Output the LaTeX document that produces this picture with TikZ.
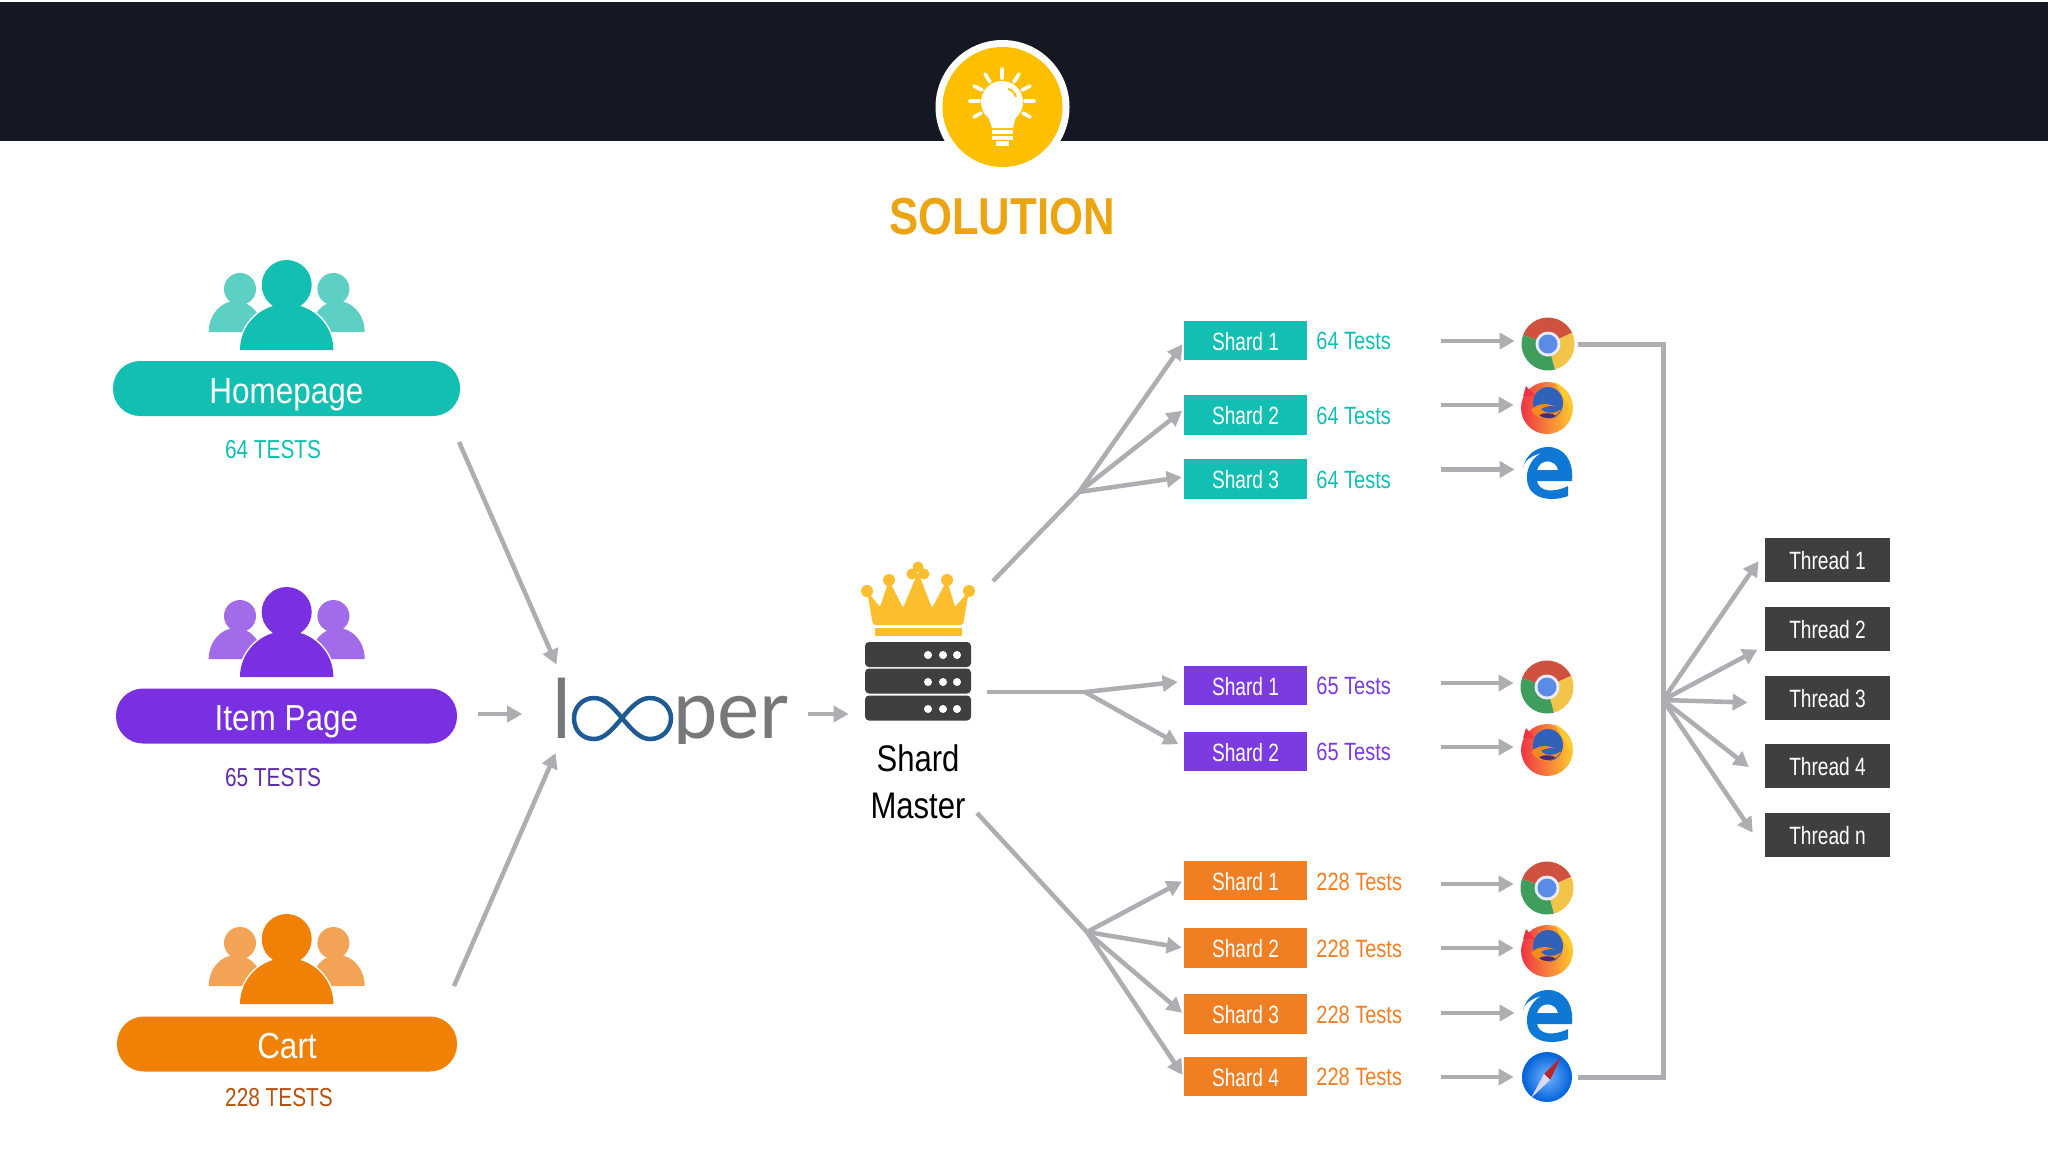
\documentclass[tikz,border=0pt]{standalone}
\usepackage{fontspec}
\usepackage{xcolor}
\usetikzlibrary{arrows.meta, calc}
\setmainfont{Liberation Sans}[FakeStretch=0.84]
\newfontfamily\pillfont{Liberation Sans}[FakeStretch=0.87]
\newfontfamily\labelfont{Liberation Sans}[FakeStretch=0.80]
\newfontfamily\boxfont{Liberation Sans}[FakeStretch=0.765]
\newfontfamily\logofont{Lato}[FakeStretch=0.97]

\definecolor{bandblack}{HTML}{151823}
\definecolor{sunyellow}{HTML}{FDBF00}
\definecolor{titlegold}{HTML}{EBA513}
\definecolor{linkgray}{HTML}{ADADB2}
\definecolor{rackgray}{HTML}{3F3F41}
\definecolor{logogray}{HTML}{77787A}
\definecolor{logoblue}{HTML}{1F5A92}
\definecolor{tealdark}{HTML}{12BFB2}
\definecolor{teallight}{HTML}{5DCFC3}
\definecolor{purpledark}{HTML}{7A2FE0}
\definecolor{purplelight}{HTML}{A26BEA}
\definecolor{purpletext}{HTML}{5E2DA5}
\definecolor{purpleshard}{HTML}{7B3BE0}
\definecolor{orangedark}{HTML}{F08006}
\definecolor{orangelight}{HTML}{F2A355}
\definecolor{orangetext}{HTML}{B5520F}
\definecolor{orangeshard}{HTML}{EF7F22}
\definecolor{crowngold}{HTML}{FCBE2C}
\definecolor{edgeblue}{HTML}{0F78D4}
\definecolor{chromered}{HTML}{CF5240}
\definecolor{chromeyellow}{HTML}{F2C448}
\definecolor{chromegreen}{HTML}{3F9E5C}
\definecolor{chromeblue}{HTML}{5A8CE6}
\definecolor{foxred}{HTML}{EE3345}
\definecolor{foxyellow}{HTML}{FFCB2E}
\definecolor{foxorange}{HTML}{F78B1F}
\definecolor{foxblue}{HTML}{2F62B8}
\definecolor{foxpurple}{HTML}{4A2A78}

\tikzset{
    pics/people/.style 2 args={code={
        \fill[#2] (-46.7,4) circle[radius=16];
        \fill[#2] (46.7,4) circle[radius=16];
        \fill[#2] (-78,47) arc[start angle=180, end angle=360, x radius=27, y radius=31] -- cycle;
        \fill[#2] (24,47) arc[start angle=180, end angle=360, x radius=27, y radius=31] -- cycle;
        \draw[white, line width=1.5pt] (0,0) circle[radius=25];
        \draw[white, line width=1.5pt] (-46.7,65) arc[start angle=180, end angle=360, x radius=46.7, y radius=46];
        \fill[#1] (0,0) circle[radius=25];
        \fill[#1] (-46.7,65) arc[start angle=180, end angle=360, x radius=46.7, y radius=46] -- cycle;
    }},
    pics/chrome/.style={code={
        \begin{scope}[yscale=-1]
        \fill[chromered] (0,0) -- (160:26.5) arc[start angle=160, end angle=25, radius=26.5] -- cycle;
        \fill[chromeyellow] (0,0) -- (25:26.5) arc[start angle=25, end angle=-75, radius=26.5] -- cycle;
        \fill[chromegreen] (0,0) -- (-75:26.5) arc[start angle=-75, end angle=-200, radius=26.5] -- cycle;
        \fill[blue!8!white] (0,0) circle[radius=12.5];
        \fill[chromeblue] (0,0) circle[radius=9.5];
        \end{scope}
    }},
    pics/firefox/.style={code={
        \begin{scope}[yscale=-1]
        \shade[left color=foxred, right color=foxyellow] (0,0) circle[radius=26];
        \fill[foxyellow] (8,26) .. controls (20,20) and (26,8) .. (25,-4) .. controls (20,6) and (14,14) .. (8,26) -- cycle;
        \fill[foxred] (-21,22) -- (-24,12) -- (-12,12) -- cycle;
        \fill[foxblue] (1,5) ellipse[x radius=15, y radius=16];
        \fill[foxorange] (-16,-2) .. controls (-8,6) and (2,6) .. (14,-2) .. controls (6,-14) and (-8,-14) .. (-16,-2) -- cycle;
        \fill[foxblue] (-6,-1) .. controls (0,3) and (8,3) .. (14,-1) .. controls (8,-6) and (-2,-6) .. (-6,-1) -- cycle;
        \fill[foxpurple] (-8,-7) .. controls (-2,-4) and (6,-5) .. (9,-8) .. controls (3,-11) and (-4,-11) .. (-8,-7) -- cycle;
        \end{scope}
    }},
    pics/edge/.style={code={
        \fill[edgeblue, even odd rule] (24,8) -- (-11,8) .. controls (-9,19) and (6,20) .. (20,13) -- (20,23) .. controls (4,29) and (-20,27) .. (-21,6)
            .. controls (-22,-6) and (-14,-17) .. (-6,-20) .. controls (-24,-16) and (-25,-6) .. (-25,-5) .. controls (-22,-20) and (-10,-26) .. (0,-26)
            .. controls (16,-26) and (26,-12) .. (24,8) -- cycle
            (-11,-3) -- (10,-3) .. controls (8,-14) and (-8,-15) .. (-11,-3) -- cycle;
    }},
    pics/safari/.style={code={
        \shade[inner color=cyan!45!blue!55!white, outer color=blue!55!cyan!85!black] (0,0) circle[radius=25];
        \fill[red!70!black!85!white] (14,-20) -- (-3,-3) -- (3,3) -- cycle;
        \fill[white!85!blue] (-16,21) -- (-3,-3) -- (3,3) -- cycle;
    }},
    pics/rackdots/.style={code={
        \fill[white] (-15,0) circle[radius=4];
        \fill[white] (0,0) circle[radius=4];
        \fill[white] (14,0) circle[radius=4];
    }}
}

\begin{document}
\begin{tikzpicture}[x=0.5pt, y=-0.5pt,
    pill/.style={fill=#1, text=white, rounded corners=13.5pt, font=\pillfont\fontsize{18.1}{20}\selectfont,
                 text height=14.5pt, text depth=0pt, minimum height=27.5pt, inner sep=0pt},
    count/.style={text=#1, font=\labelfont\fontsize{13}{15}\selectfont, inner sep=0pt,
                  text height=9.3pt, text depth=0pt},
    shard/.style={fill=#1, text=white, font=\boxfont\fontsize{12.5}{14}\selectfont, inner sep=0pt,
                  text height=9.8pt, text depth=0pt, minimum width=61.5pt, minimum height=19.75pt},
    tests/.style={text=#1, font=\labelfont\fontsize{12.5}{14}\selectfont, inner sep=0pt, anchor=west,
                  text height=8.5pt, text depth=0pt},
    thread/.style={fill=rackgray, text=white, font=\boxfont\fontsize{12.5}{14}\selectfont, inner sep=0pt,
                   text height=9.8pt, text depth=0pt, minimum width=62.5pt, minimum height=22pt},
    rack/.style={fill=rackgray, rounded corners=2pt, inner sep=0pt,
                 minimum width=53pt, minimum height=12.5pt},
    browser/.style={circle, inner sep=0pt, minimum size=26pt},
    logo/.style={text=logogray, font=\logofont\fontsize{41}{45}\selectfont, inner sep=0pt, anchor=base},
    link/.style={draw=linkgray, line width=2.25pt},
    arrow/.style={link, -{Triangle[length=7.5pt, width=8pt]}}
]
\useasboundingbox (0,0) rectangle (2048,1152);
\fill[white] (0,0) rectangle (2048,1152);

% ---- Header band with lamp ----
\fill[bandblack] (0,2) rectangle (2048,141);
\fill[white] (1002.5,107) circle[radius=67];
\fill[sunyellow] (1002.5,107) circle[radius=60];
\fill[white] (1002,102) circle[radius=21];
\fill[white] (988,116) -- (992,128) -- (1013,128) -- (1016,116) -- cycle;
\fill[white] (992,130) rectangle (1013,134);
\fill[white] (992,136) rectangle (1013,140);
\fill[white] (996,141) rectangle (1009,146);
\draw[sunyellow, line width=1pt] (1008,89) .. controls (1012,90) and (1015,93) .. (1016,97);
\draw[white, line width=1.8pt, line cap=round] (1002,69) -- (1002,78);
\draw[white, line width=1.8pt, line cap=round] (1019,74) -- (1014,82);
\draw[white, line width=1.8pt, line cap=round] (985,74) -- (990,82);
\draw[white, line width=1.8pt, line cap=round] (1030,86) -- (1022,90);
\draw[white, line width=1.8pt, line cap=round] (974,86) -- (982,90);
\draw[white, line width=1.8pt, line cap=round] (1034,101) -- (1025,101);
\draw[white, line width=1.8pt, line cap=round] (970,101) -- (979,101);
\draw[white, line width=1.8pt, line cap=round] (1030,117) -- (1023,113);
\draw[white, line width=1.8pt, line cap=round] (974,117) -- (981,113);
\node[text=titlegold, font=\bfseries\fontsize{26}{30}\selectfont, inner sep=0pt] (title) at (1002,217) {SOLUTION};

% ---- Pages ----
\pic at (286.7,285) {people={tealdark}{teallight}};
\node[pill=tealdark, minimum width=173.5pt] (home) at (286.5,388.5) {Homepage};
\node[count=tealdark] (homecount) at (273,449) {64 TESTS};

\pic at (286.7,612) {people={purpledark}{purplelight}};
\node[pill=purpledark, minimum width=170.5pt] (item) at (286.5,716) {Item Page};
\node[count=purpletext] (itemcount) at (273,777) {65 TESTS};

\pic at (286.7,939) {people={orangedark}{orangelight}};
\node[pill=orangedark, minimum width=170pt] (cart) at (287,1044) {Cart};
\node[count=orangetext] (cartcount) at (279,1097) {228 TESTS};

% ---- Looper logo ----
\node[logo] (logol) at (562,738) {l};
\draw[draw=logoblue, line width=2.25pt] (622,718) .. controls (612,706) and (604,698) .. (594,698)
    .. controls (582,698) and (574,708) .. (574,718) .. controls (574,730) and (582,739) .. (594,739)
    .. controls (604,739) and (612,730) .. (622,718) .. controls (632,706) and (640,698) .. (650,698)
    .. controls (662,698) and (671,708) .. (671,718) .. controls (671,730) and (662,739) .. (650,739)
    .. controls (640,739) and (632,730) .. (622,718);
\begin{scope}
    \clip (670,680) rectangle (800,743);
    \node[logo] (logoper) at (731,738) {per};
\end{scope}

% ---- Shard master ----
\fill[crowngold, rounded corners=1pt] (873,625) -- (867,591) -- (880,607) -- (889,580) -- (903,608)
    -- (918,572) -- (932,608) -- (947,580) -- (955,607) -- (969,591) -- (963,625) -- cycle;
\fill[crowngold] (875,628) rectangle (962,636);
\fill[crowngold] (867,591) circle[radius=6];
\fill[crowngold] (889,580) circle[radius=6];
\fill[crowngold] (947,580) circle[radius=6];
\fill[crowngold] (969,591) circle[radius=6];
\fill[crowngold] (918,567) circle[radius=5.5];
\fill[crowngold] (912,574) circle[radius=5.5];
\fill[crowngold] (924,574) circle[radius=5.5];
\node[rack] (rack1) at (918,654.5) {};
\node[rack] (rack2) at (918,681) {};
\node[rack] (rack3) at (918,708) {};
\pic at (943,655) {rackdots};
\pic at (943,682) {rackdots};
\pic at (943,709) {rackdots};
\node[font=\fontsize{18.5}{23.5}\selectfont, align=center, inner sep=0pt] (master) at (918,782) {Shard\\Master};

% ---- Shards ----
\node[shard=tealdark] (s11) at (1245.5,340.5) {Shard 1};
\node[shard=tealdark] (s12) at (1245.5,415) {Shard 2};
\node[shard=tealdark] (s13) at (1245.5,479) {Shard 3};
\node[tests=tealdark] (t11) at (1316,341) {64 Tests};
\node[tests=tealdark] (t12) at (1316,416) {64 Tests};
\node[tests=tealdark] (t13) at (1316,480) {64 Tests};

\node[shard=purpleshard] (s21) at (1245.5,685.5) {Shard 1};
\node[shard=purpleshard] (s22) at (1245.5,751.5) {Shard 2};
\node[tests=purpleshard] (t21) at (1316,686) {65 Tests};
\node[tests=purpleshard] (t22) at (1316,752) {65 Tests};

\node[shard=orangeshard] (s31) at (1245.5,880.5) {Shard 1};
\node[shard=orangeshard] (s32) at (1245.5,948) {Shard 2};
\node[shard=orangeshard] (s33) at (1245.5,1014) {Shard 3};
\node[shard=orangeshard] (s34) at (1245.5,1076.5) {Shard 4};
\node[tests=orangeshard] (t31) at (1316,882) {228 Tests};
\node[tests=orangeshard] (t32) at (1316,949) {228 Tests};
\node[tests=orangeshard] (t33) at (1316,1015) {228 Tests};
\node[tests=orangeshard] (t34) at (1316,1077) {228 Tests};

% ---- Browsers ----
\node[browser] (br11) at (1548,344) {};
\node[browser] (br12) at (1547,408) {};
\node[browser] (br13) at (1548,473) {};
\node[browser] (br21) at (1547,687) {};
\node[browser] (br22) at (1547,750) {};
\node[browser] (br31) at (1547,888) {};
\node[browser] (br32) at (1547,951) {};
\node[browser] (br33) at (1548,1016) {};
\node[browser] (br34) at (1547,1077) {};
\pic at (br11) {chrome};
\pic at (br12) {firefox};
\pic at (br13) {edge};
\pic at (br21) {chrome};
\pic at (br22) {firefox};
\pic at (br31) {chrome};
\pic at (br32) {firefox};
\pic at (br33) {edge};
\pic at (br34) {safari};

% ---- Threads ----
\node[thread] (th1) at (1827.5,560) {Thread 1};
\node[thread] (th2) at (1827.5,629) {Thread 2};
\node[thread] (th3) at (1827.5,697.5) {Thread 3};
\node[thread] (th4) at (1827.5,766) {Thread 4};
\node[thread] (thn) at (1827.5,834.5) {Thread n};

% ---- Arrows into looper ----
\coordinate (homeout) at (459,442);
\coordinate (itemout) at (478,714);
\coordinate (cartout) at (454,986);
\coordinate (logoout) at (808,714);
\draw[arrow, shorten >=7pt] (homeout) -- (logol.north);
\draw[arrow, shorten >=15pt] (itemout) -- (itemout -| logol.west);
\draw[arrow, shorten >=8pt] (cartout) -- (logol.south);
\draw[arrow, shorten >=8pt] (logoout) -- (logoout -| rack3.west);

% ---- Master to shards ----
\coordinate (out1) at (993,581);
\coordinate (fork1) at (1079,492);
\draw[link] (out1) -- (fork1);
\draw[arrow, shorten >=1pt] (fork1) -- (s11.182);
\draw[arrow, shorten >=1pt] (fork1) -- (s12.175);
\draw[arrow, shorten >=1pt] (fork1) -- (s13.178);

\coordinate (out2) at (987,692);
\coordinate (fork2) at (1085,692);
\draw[link] (out2) -- (fork2);
\draw[arrow, shorten >=3pt] (fork2) -- (s21.176);
\draw[arrow, shorten >=3pt] (fork2) -- (s22.176);

\coordinate (out3) at (977,813);
\coordinate (fork3) at (1087,932);
\draw[link] (out3) -- (fork3);
\draw[arrow, shorten >=1pt] (fork3) -- (s31.west);
\draw[arrow, shorten >=1pt] (fork3) -- (s32.west);
\draw[arrow, shorten >=1pt] (fork3) -- (s33.west);
\draw[arrow, shorten >=1pt] (fork3) -- (s34.west);

% ---- Shards to browsers ----
\coordinate (a11) at (1441,341);
\coordinate (a12) at (1441,405);
\coordinate (a13) at (1441,469.5);
\coordinate (a21) at (1441,683);
\coordinate (a22) at (1441,747);
\coordinate (a31) at (1441,884);
\coordinate (a32) at (1441,948);
\coordinate (a33) at (1441,1013);
\coordinate (a34) at (1441,1077);
\draw[arrow, shorten >=3.5pt] (a11) -- (a11 -| br11.west);
\draw[arrow, shorten >=3.5pt] (a12) -- (a12 -| br12.west);
\draw[arrow, shorten >=3.5pt] (a13) -- (a13 -| br13.west);
\draw[arrow, shorten >=3.5pt] (a21) -- (a21 -| br21.west);
\draw[arrow, shorten >=3.5pt] (a22) -- (a22 -| br22.west);
\draw[arrow, shorten >=3.5pt] (a31) -- (a31 -| br31.west);
\draw[arrow, shorten >=3.5pt] (a32) -- (a32 -| br32.west);
\draw[arrow, shorten >=3.5pt] (a33) -- (a33 -| br33.west);
\draw[arrow, shorten >=3.5pt] (a34) -- (a34 -| br34.west);

% ---- Browsers to threads ----
\coordinate (hub) at (1663,700);
\draw[link, line width=2.5pt, shorten <=2pt, shorten >=2.5pt] (br11.east) -- (br11.east -| hub)
    -- (br34.east -| hub) -- (br34.east);
\draw[arrow, shorten >=5.4pt] (hub) -- (th1.173);
\draw[arrow, shorten >=4pt] (hub) -- (th2.195);
\draw[arrow, shorten >=8.5pt] (hub) -- (th3.185);
\draw[arrow, shorten >=10pt] (hub) -- (th4.192);
\draw[arrow, shorten >=10.6pt] (hub) -- (thn.194);

\end{tikzpicture}
\end{document}
